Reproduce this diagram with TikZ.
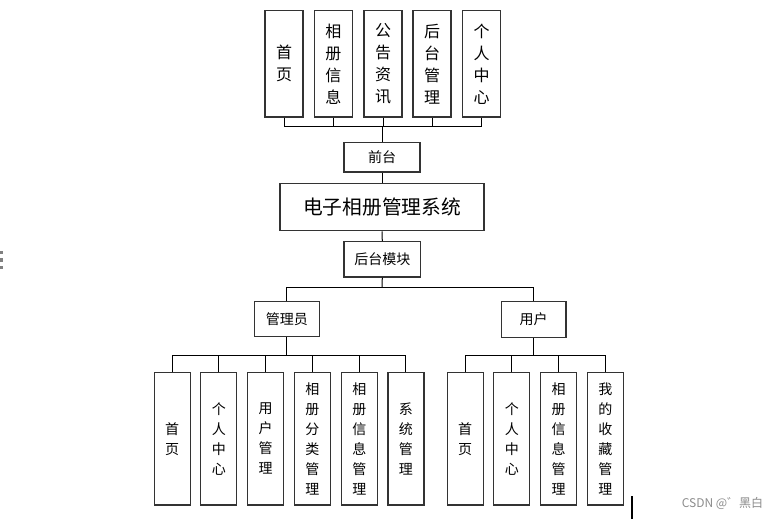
\documentclass[tikz,border=0pt]{standalone}
\usepackage{fontspec}
\setmainfont{Noto Sans CJK SC}
\begin{document}
\begin{tikzpicture}[x=0.75pt,y=-0.75pt,
  box/.style={draw=black!80, line width=0.9pt, inner sep=0pt, align=center, fill=white},
  topbox/.style={box, minimum width=28.5pt, minimum height=79.7pt, font=\fontsize{12}{16.5}\selectfont},
  subbox/.style={box, minimum width=27pt, minimum height=99.2pt, font=\fontsize{10.5}{15}\selectfont},
  midbox/.style={box, font=\fontsize{10.5}{13}\selectfont},
  conn/.style={draw=black, line width=0.75pt}]
\useasboundingbox (0,0) rectangle (781,519);

% top level
\node[topbox] (t1) at (284,63.9) {首\\页};
\node[topbox] (t2) at (333.3,63.9) {相\\册\\信\\息};
\node[topbox] (t3) at (383,63.9) {公\\告\\资\\讯};
\node[topbox] (t4) at (432,63.9) {后\\台\\管\\理};
\node[topbox] (t5) at (481.7,63.9) {个\\人\\中\\心};

\node[midbox, minimum width=57pt, minimum height=22pt] (qt) at (382,157.4) {前台};
\node[box, minimum width=153pt, minimum height=35.8pt, font=\fontsize{14.8}{16}\selectfont] (main) at (382,207) {电子相册管理系统};
\node[midbox, minimum width=57.5pt, minimum height=26.5pt] (hm) at (382.3,259.4) {后台模块};
\node[midbox, minimum width=48.75pt, minimum height=26.25pt] (admin) at (286.8,319.2) {管理员};
\node[midbox, minimum width=48.5pt, minimum height=26.7pt] (user) at (533.7,319.5) {用户};

% admin children
\node[subbox] (a1) at (172.2,438.8) {首\\页};
\node[subbox] (a2) at (218.8,438.8) {个\\人\\中\\心};
\node[subbox] (a3) at (265.5,438.8) {用\\户\\管\\理};
\node[subbox] (a4) at (312.3,438.8) {相\\册\\分\\类\\管\\理};
\node[subbox] (a5) at (359.3,438.8) {相\\册\\信\\息\\管\\理};
\node[subbox] (a6) at (405.9,438.8) {系\\统\\管\\理};

% user children
\node[subbox] (u1) at (465.2,438.8) {首\\页};
\node[subbox] (u2) at (511.8,438.8) {个\\人\\中\\心};
\node[subbox] (u3) at (558.7,438.8) {相\\册\\信\\息\\管\\理};
\node[subbox] (u4) at (605.3,438.8) {我\\的\\收\\藏\\管\\理};

% bus coordinates
\coordinate (bus1) at (382,126);
\coordinate (bus2) at (382,287);
\coordinate (bus3) at (286.8,355.3);
\coordinate (bus4) at (533.7,355.3);

% connectors
\foreach \n in {t1,t2,t3,t4,t5} \draw[conn] (\n.south) |- (bus1);
\draw[conn] (bus1) -- (qt.north);
\draw[conn] (qt.south) -- (main.north);
\draw[conn] (main.south) -- (hm.north);
\draw[conn] (hm.south) -- (bus2);
\draw[conn] (bus2) -| (admin.north);
\draw[conn] (bus2) -| (user.north);
\draw[conn] (admin.south) -- (bus3);
\foreach \n in {a1,a2,a3,a4,a5,a6} \draw[conn] (\n.north) |- (bus3);
\draw[conn] (user.south) -- (bus4);
\foreach \n in {u1,u2,u3,u4} \draw[conn] (\n.north) |- (bus4);

% page artefacts
\fill[black!50] (0,251) rectangle (3.3,254.3);
\fill[black!50] (0,258.4) rectangle (3.3,261.7);
\fill[black!50] (0,265.8) rectangle (3.3,269.1);
\fill[black] (631.3,496) rectangle (633.3,519);
\node[anchor=west, inner sep=0pt, text=black!45, font=\fontsize{9}{10}\selectfont] (wm) at (681.5,503) {CSDN @゛黑白};
\end{tikzpicture}
\end{document}
